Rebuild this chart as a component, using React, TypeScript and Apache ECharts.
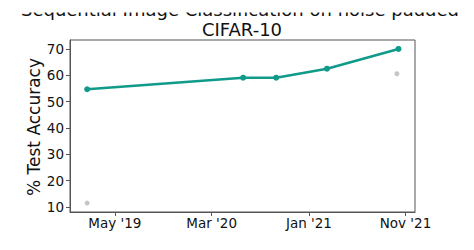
import React, { useEffect, useRef } from "react";
import * as echarts from "echarts";

const titleLines = ["Sequential Image Classification on noise padded", "CIFAR-10"];
const yAxisName = "% Test Accuracy";

const bestDates = ["2019-02-03", "2020-06-08", "2020-09-20", "2021-02-27", "2021-10-10"];
const bestAccuracy = [54.7, 59.1, 59.1, 62.5, 70.0];

const otherDates = ["2019-02-03", "2021-10-05"];
const otherAccuracy = [11.5, 60.6];

const xTickDates = ["2019-05-01", "2020-03-01", "2021-01-01", "2021-11-01"];
const yTicks = [10, 20, 30, 40, 50, 60, 70];

const xMinDate = "2018-12-11";
const xMaxDate = "2021-12-01";
const yMin = 8.1;
const yMax = 73.4;

const MONTHS = ["Jan", "Feb", "Mar", "Apr", "May", "Jun", "Jul", "Aug", "Sep", "Oct", "Nov", "Dec"];
const ts = (d: string) => new Date(d + "T00:00:00Z").getTime();

export default function App() {
  const ref = useRef<HTMLDivElement>(null);
  useEffect(() => {
    if (!ref.current) return;
    const chart = echarts.init(ref.current, null, { renderer: "svg" });
    const font = "DejaVu Sans";
    const spine = "#555555";
    chart.setOption({
      animation: false,
      backgroundColor: "#ffffff",
      grid: {
        left: 70,
        top: 40,
        width: 345,
        height: 172,
        show: true,
        borderColor: spine,
        borderWidth: 1,
        containLabel: false,
      },
      xAxis: {
        type: "value",
        min: ts(xMinDate),
        max: ts(xMaxDate),
        axisLine: { show: true, onZero: false, lineStyle: { color: spine, width: 1 } },
        axisTick: {
          show: true,
          length: 4,
          customValues: xTickDates.map(ts),
          lineStyle: { color: spine },
        },
        axisLabel: {
          show: true,
          customValues: xTickDates.map(ts),
          margin: 4,
          fontFamily: font,
          fontSize: 13.5,
          color: "#111111",
          formatter: (v: number) => {
            const d = new Date(v);
            return MONTHS[d.getUTCMonth()] + " '" + String(d.getUTCFullYear()).slice(2);
          },
        },
        splitLine: { show: false },
      },
      yAxis: {
        type: "value",
        min: yMin,
        max: yMax,
        axisLine: { show: true, lineStyle: { color: spine, width: 1 } },
        axisTick: { show: true, length: 4, customValues: yTicks, lineStyle: { color: spine } },
        axisLabel: {
          show: true,
          customValues: yTicks,
          margin: 6,
          fontFamily: font,
          fontSize: 13.5,
          color: "#111111",
        },
        splitLine: { show: false },
      },
      graphic: [
        {
          type: "text",
          x: 240,
          y: 9,
          style: {
            text: titleLines[0],
            fontFamily: font,
            fontSize: 18,
            fill: "#111111",
            textAlign: "center",
            textVerticalAlign: "middle",
          },
          z: 10,
        },
        {
          type: "rect",
          shape: { x: 0, y: 0, width: 474, height: 12.5 },
          style: { fill: "#ffffff" },
          z: 11,
        },
        {
          type: "text",
          x: 242,
          y: 29,
          style: {
            text: titleLines[1],
            fontFamily: font,
            fontSize: 18,
            fill: "#111111",
            textAlign: "center",
            textVerticalAlign: "middle",
          },
          z: 10,
        },
        {
          type: "text",
          x: 34,
          y: 127,
          rotation: Math.PI / 2,
          style: {
            text: yAxisName,
            fontFamily: font,
            fontSize: 17,
            fill: "#111111",
            textAlign: "center",
            textVerticalAlign: "middle",
          },
          z: 10,
        },
      ],
      series: [
        {
          type: "scatter",
          data: otherDates.map((d, i) => [ts(d), otherAccuracy[i]]),
          symbol: "circle",
          symbolSize: 5,
          itemStyle: { color: "#b8b8b8" },
          z: 2,
        },
        {
          type: "line",
          data: bestDates.map((d, i) => [ts(d), bestAccuracy[i]]),
          symbol: "circle",
          symbolSize: 6,
          showSymbol: true,
          lineStyle: { color: "#0f9a8a", width: 2.5 },
          itemStyle: { color: "#0f9a8a" },
          z: 3,
        },
      ],
    });
    return () => chart.dispose();
  }, []);
  return <div ref={ref} style={{ position: "fixed", left: 0, top: 0, width: 474, height: 250 }} />;
}
